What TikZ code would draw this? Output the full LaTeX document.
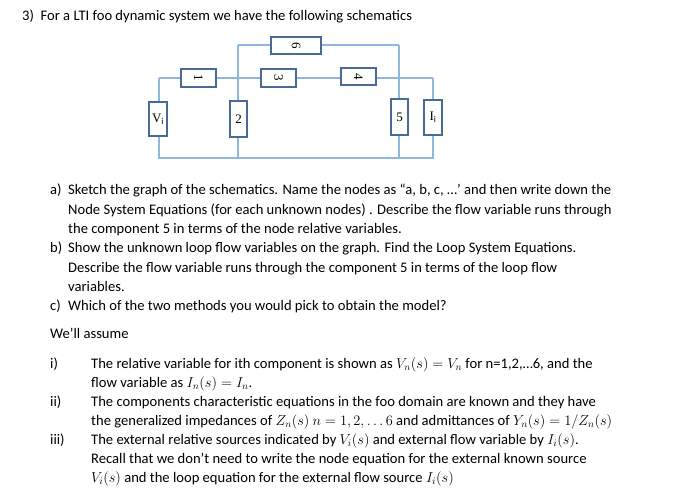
\documentclass[tikz,border=0pt]{standalone}
\usepackage{fontspec}
\setmainfont{Carlito}
\newfontfamily\serifc{Liberation Serif}
\definecolor{wirec}{HTML}{8DB8E2}
\definecolor{boxc}{HTML}{4A6A94}
\begin{document}
\begin{tikzpicture}[x=1pt,y=-1pt,
 wire/.style={draw=wirec, line width=1.2pt},
 comp/.style={draw=boxc, line width=1.2pt, fill=white, inner sep=0pt, font=\fontsize{13}{14}\selectfont\serifc},
 tx/.style={anchor=base west, inner sep=0pt, font=\fontsize{14.6}{16}\selectfont}]
\useasboundingbox (0,0) rectangle (692,487);
% wires
\draw[wire] (159,78) -- (433,78);
\draw[wire] (238,45) -- (399,45);
\draw[wire] (159,78) -- (159,158) -- (433,158) -- (433,78);
\draw[wire] (238,45) -- (238,158);
\draw[wire] (399,45) -- (399,158);
% components
\node[comp, minimum width=18pt, minimum height=34pt] (vi) at (158,119) {V$_{\mathrm i}$};
\node[comp, minimum width=17pt, minimum height=36pt] (c2) at (238.5,119) {2};
\node[comp, minimum width=17pt, minimum height=36pt] (c5) at (399.5,117) {5};
\node[comp, minimum width=18pt, minimum height=35pt] (ii) at (433,117.5) {I$_{\mathrm i}$};
\node[comp, minimum width=35pt, minimum height=18pt] (c1) at (198.5,78) {\rotatebox{-90}{1}};
\node[comp, minimum width=35pt, minimum height=18pt] (c3) at (278.5,78) {\rotatebox{-90}{3}};
\node[comp, minimum width=35pt, minimum height=17pt] (c4) at (358.5,76.5) {\rotatebox{-90}{4}};
\node[comp, minimum width=50pt, minimum height=17pt] (c6) at (296,45.5) {\rotatebox{-90}{6}};
% text
\node[tx] (t0) at (22,21) {3)\ \ For a LTI foo dynamic system we have the following schematics};
\node[tx] (a) at (50,194) {a)};
\node[tx] (a1) at (68,194) {Sketch the graph of the schematics. Name the nodes as “a, b, c, …’ and then write down the};
\node[tx] (a2) at (68,214) {Node System Equations (for each unknown nodes) . Describe the flow variable runs through};
\node[tx] (a3) at (68,233) {the component 5 in terms of the node relative variables.};
\node[tx] (b) at (50,252) {b)};
\node[tx] (b1) at (68,252) {Show the unknown loop flow variables on the graph. Find the Loop System Equations.};
\node[tx] (b2) at (68,272) {Describe the flow variable runs through the component 5 in terms of the loop flow};
\node[tx] (b3) at (68,291) {variables.};
\node[tx] (c) at (50,310) {c)};
\node[tx] (c1) at (68,310) {Which of the two methods you would pick to obtain the model?};
\node[tx] (w) at (50,338) {We’ll assume};
\node[tx] (i) at (50,368) {i)};
\node[tx] (i1) at (91,368) {The relative variable for ith component is shown as $V_n(s)=V_n$ for n=1,2,…6, and the};
\node[tx] (i2) at (91,387) {flow variable as $I_n(s)=I_n$.};
\node[tx] (ii0) at (50,406) {ii)};
\node[tx] (ii1) at (91,406) {The components characteristic equations in the foo domain are known and they have};
\node[tx] (ii2) at (91,425) {the generalized impedances of $Z_n(s)\ n=1,2,\ldots 6$ and admittances of $Y_n(s)=1/Z_n(s)$};
\node[tx] (iii) at (50,444) {iii)};
\node[tx] (iii1) at (91,444) {The external relative sources indicated by $V_i(s)$ and external flow variable by $I_i(s)$.};
\node[tx] (iii2) at (91,463) {Recall that we don’t need to write the node equation for the external known source};
\node[tx] (iii3) at (91,482) {$V_i(s)$ and the loop equation for the external flow source $I_i(s)$};
\end{tikzpicture}
\end{document}
